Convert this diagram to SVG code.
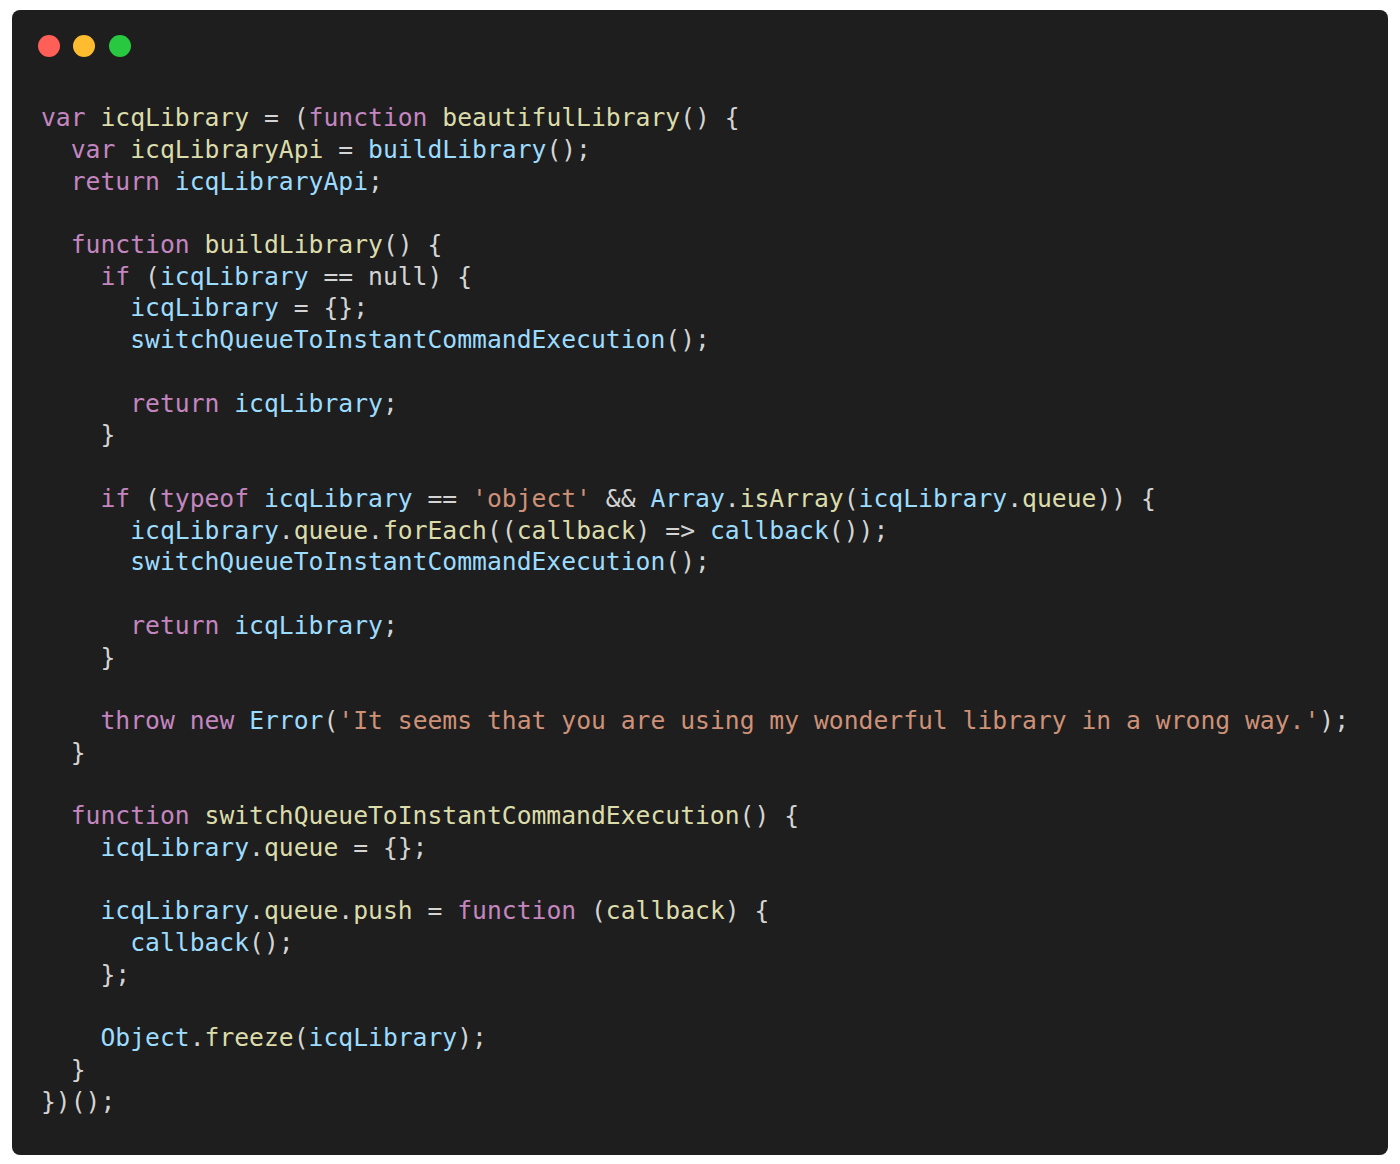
<svg xmlns="http://www.w3.org/2000/svg" width="1400" height="1164" viewBox="0 0 1400 1164">
<style>
text{font-family:"DejaVu Sans Mono","Liberation Mono",monospace;font-size:24.7px;fill:#d4d4d4;white-space:pre}
.k{fill:#c586c0}.y{fill:#dcdcaa}.b{fill:#9cdcfe}.s{fill:#ce9178}
</style>
<rect width="1400" height="1164" fill="#ffffff"/>
<rect x="12" y="10" width="1376" height="1145" rx="8" fill="#1e1e1e"/>
<g id="buttons">
<circle cx="49" cy="46" r="11" fill="#ff5f57"/>
<circle cx="84" cy="46" r="11" fill="#febc2e"/>
<circle cx="120" cy="46" r="11" fill="#28c840"/>
</g>
<g id="code" xml:space="preserve">
<text x="41" y="126"><tspan class="k">var</tspan> <tspan class="y">icqLibrary</tspan> = (<tspan class="k">function</tspan> <tspan class="y">beautifulLibrary</tspan>() {</text>
<text x="41" y="157.7">  <tspan class="k">var</tspan> <tspan class="y">icqLibraryApi</tspan> = <tspan class="b">buildLibrary</tspan>();</text>
<text x="41" y="189.5">  <tspan class="k">return</tspan> <tspan class="b">icqLibraryApi</tspan>;</text>
<text x="41" y="253">  <tspan class="k">function</tspan> <tspan class="y">buildLibrary</tspan>() {</text>
<text x="41" y="284.7">    <tspan class="k">if</tspan> (<tspan class="b">icqLibrary</tspan> == null) {</text>
<text x="41" y="316.4">      <tspan class="b">icqLibrary</tspan> = {};</text>
<text x="41" y="348.2">      <tspan class="b">switchQueueToInstantCommandExecution</tspan>();</text>
<text x="41" y="411.7">      <tspan class="k">return</tspan> <tspan class="b">icqLibrary</tspan>;</text>
<text x="41" y="443.4">    }</text>
<text x="41" y="506.9">    <tspan class="k">if</tspan> (<tspan class="k">typeof</tspan> <tspan class="b">icqLibrary</tspan> == <tspan class="s">'object'</tspan> &amp;&amp; <tspan class="b">Array</tspan>.<tspan class="y">isArray</tspan>(<tspan class="b">icqLibrary</tspan>.<tspan class="y">queue</tspan>)) {</text>
<text x="41" y="538.6">      <tspan class="b">icqLibrary</tspan>.<tspan class="y">queue</tspan>.<tspan class="y">forEach</tspan>((<tspan class="y">callback</tspan>) =&gt; <tspan class="b">callback</tspan>());</text>
<text x="41" y="570.3">      <tspan class="b">switchQueueToInstantCommandExecution</tspan>();</text>
<text x="41" y="633.8">      <tspan class="k">return</tspan> <tspan class="b">icqLibrary</tspan>;</text>
<text x="41" y="665.5">    }</text>
<text x="41" y="729">    <tspan class="k">throw</tspan> <tspan class="k">new</tspan> <tspan class="b">Error</tspan>(<tspan class="s">'It seems that you are using my wonderful library in a wrong way.'</tspan>);</text>
<text x="41" y="760.7">  }</text>
<text x="41" y="824.2">  <tspan class="k">function</tspan> <tspan class="y">switchQueueToInstantCommandExecution</tspan>() {</text>
<text x="41" y="855.9">    <tspan class="b">icqLibrary</tspan>.<tspan class="y">queue</tspan> = {};</text>
<text x="41" y="919.4">    <tspan class="b">icqLibrary</tspan>.<tspan class="y">queue</tspan>.<tspan class="y">push</tspan> = <tspan class="k">function</tspan> (<tspan class="y">callback</tspan>) {</text>
<text x="41" y="951.1">      <tspan class="b">callback</tspan>();</text>
<text x="41" y="982.8">    };</text>
<text x="41" y="1046.3">    <tspan class="b">Object</tspan>.<tspan class="y">freeze</tspan>(<tspan class="b">icqLibrary</tspan>);</text>
<text x="41" y="1078">  }</text>
<text x="41" y="1109.8">})();</text>
</g>
</svg>
